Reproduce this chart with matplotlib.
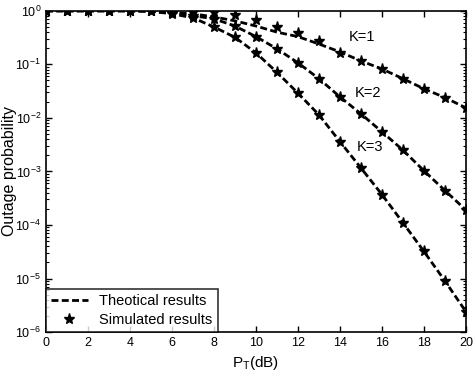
import numpy as np
import matplotlib
matplotlib.use("Agg")
from matplotlib import pyplot as plt
from matplotlib.ticker import LogLocator, NullFormatter

plt.rcParams['font.family'] = ['Liberation Sans', 'DejaVu Sans']
plt.rcParams['mathtext.fontset'] = 'custom'
plt.rcParams['mathtext.rm'] = 'Liberation Sans'
plt.rcParams['mathtext.it'] = 'Liberation Sans:italic'

# transmit power (dB)
pt_db = np.arange(0, 21)

# theoretical outage probability
theory_k1 = [1, 1, 1, 1, 1, 0.98, 0.94, 0.88, 0.77, 0.65, 0.52, 0.40, 0.33,
             0.24, 0.171, 0.116, 0.082, 0.054, 0.035, 0.024, 0.0154]
theory_k2 = [1, 1, 1, 1, 1, 0.99, 0.90, 0.81, 0.71, 0.52, 0.33, 0.195, 0.107,
             0.054, 0.0247, 0.0119, 0.0055, 0.0025, 0.00103, 4.4e-4, 1.9e-4]
theory_k3 = [1, 1, 1, 1, 1, 0.98, 0.88, 0.74, 0.50, 0.32, 0.164, 0.071, 0.029,
             0.0114, 0.0036, 0.00116, 3.7e-4, 1.1e-4, 3.2e-5, 9.0e-6, 2.4e-6]

# simulated outage probability
sim_k1 = [1, 1, 1, 1, 1, 1, 0.97, 0.95, 0.96, 0.84, 0.68, 0.50, 0.39,
          0.27, 0.164, 0.116, 0.082, 0.054, 0.035, 0.024, 0.0154]
sim_k2 = theory_k2
sim_k3 = theory_k3

labels = ['K=1', 'K=2', 'K=3']
label_pos = [(15.05, 0.33), (15.35, 0.029), (15.45, 0.0029)]

fig = plt.figure(figsize=(4.74, 3.87), dpi=100)
ax = fig.add_axes([0.097, 0.142, 0.886, 0.830])

for th, sim in [(theory_k1, sim_k1), (theory_k2, sim_k2), (theory_k3, sim_k3)]:
    ax.plot(pt_db, th, color='black', linestyle='--', linewidth=2, dashes=(2.5, 1.2))
    ax.plot(pt_db, sim, linestyle='none', marker='*', color='black', markersize=8)

for lab, (x, y) in zip(labels, label_pos):
    ax.text(x, y, lab, fontsize=10.5, ha='center', va='center')

ax.set_yscale('log')
ax.set_xlim(0, 20)
ax.set_ylim(1e-6, 1)
ax.set_xticks(np.arange(0, 21, 2))
ax.yaxis.set_major_locator(LogLocator(base=10, numticks=10))
ax.yaxis.set_minor_locator(LogLocator(base=10, subs=np.arange(2, 10), numticks=10))
ax.yaxis.set_minor_formatter(NullFormatter())
ax.tick_params(which='both', direction='in', top=True, right=True, labelsize=9)
ax.tick_params(which='major', length=4, width=1)
ax.tick_params(which='minor', length=2, width=0.8)
for s in ax.spines.values():
    s.set_linewidth(1.2)

ax.set_xlabel(r'P$_\mathrm{T}$(dB)', fontsize=11, labelpad=4)
ax.set_ylabel('Outage probability', fontsize=11.5)
ax.yaxis.set_label_coords(-0.070, 0.5)

h1, = ax.plot([], [], color='black', linestyle='--', linewidth=2, dashes=(2.5, 1.2))
h2, = ax.plot([], [], linestyle='none', marker='*', color='black', markersize=8)
leg = ax.legend([h1, h2], ['Theotical results', 'Simulated results'], loc='lower left',
                fontsize=10.5, frameon=True, fancybox=False, edgecolor='black',
                borderaxespad=0, handlelength=2.5, borderpad=0.35, labelspacing=0.35)
leg.get_frame().set_linewidth(1.2)

fig.savefig('out.png', dpi=100)
